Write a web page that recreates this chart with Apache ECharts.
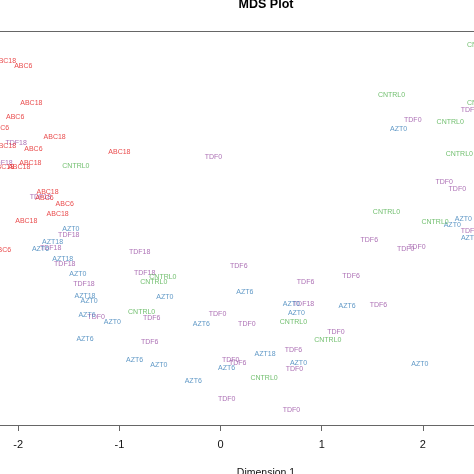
<!DOCTYPE html>
<html>
<head>
<meta charset="utf-8" />
<style type="text/css">
html, body {margin: 0; padding: 0; background: #fff}
#main {width: 474px; height: 474px}
</style>
</head>
<body>
<div id="main"></div>
<script src="https://cdn.jsdelivr.net/npm/echarts@6/dist/echarts.min.js"></script>
<script type="text/javascript">

// MDS coordinates, one array set per group
var abcNames = ['ABC18','ABC6','ABC18','ABC6','ABC6','ABC18','ABC18','ABC6','ABC18','ABC18','ABC18','ABC18','ABC18','ABC6','ABC6','ABC18','ABC18','ABC6'];
var abcDim1 = [-2.13,-1.95,-1.87,-2.03,-2.18,-1.64,-2.13,-1.85,-1.00,-1.88,-1.99,-2.15,-1.71,-1.74,-1.54,-1.61,-1.92,-2.16];
var abcDim2 = [1.65,1.60,1.23,1.10,0.99,0.90,0.81,0.78,0.75,0.64,0.60,0.60,0.35,0.30,0.24,0.14,0.07,-0.22];

var aztNames = ['AZT0','AZT18','AZT6','AZT18','AZT0','AZT18','AZT0','AZT0','AZT6','AZT0','AZT6','AZT6','AZT0','AZT6',
    'AZT6','AZT6','AZT0','AZT0','AZT6','AZT18','AZT0','AZT6','AZT0','AZT0','AZT0','AZT0','AZT0'];
var aztDim1 = [-1.48,-1.66,-1.78,-1.56,-1.41,-1.34,-1.30,-0.55,-1.32,-1.07,-1.34,-0.85,-0.61,-0.27,
    -0.19,0.24,0.70,0.75,0.06,0.44,0.77,1.25,1.97,1.76,2.29,2.40,2.46];
var aztDim2 = [-0.01,-0.14,-0.21,-0.31,-0.45,-0.67,-0.72,-0.68,-0.86,-0.93,-1.10,-1.30,-1.35,-1.51,
    -0.95,-0.63,-0.75,-0.84,-1.38,-1.24,-1.33,-0.77,-1.34,0.98,0.03,0.09,-0.10];

var cntrlNames = ['CNTRL0','CNTRL0','CNTRL0','CNTRL0','CNTRL0','CNTRL0','CNTRL0','CNTRL0','CNTRL0','CNTRL0','CNTRL0','CNTRL0','CNTRL0','CNTRL0'];
var cntrlDim1 = [-1.43,-0.57,-0.66,-0.78,0.72,1.06,0.43,1.69,2.57,2.57,2.27,2.36,1.64,2.12];
var cntrlDim2 = [0.61,-0.48,-0.53,-0.83,-0.93,-1.11,-1.48,1.31,1.81,1.23,1.05,0.73,0.16,0.06];

var tdfNames = ['TDF18','TDF18','TDF18','TDF18','TDF18','TDF18','TDF18','TDF18','TDF18','TDF0','TDF6','TDF6',
    'TDF0','TDF6','TDF6','TDF18','TDF0','TDF0','TDF0','TDF6','TDF6','TDF0','TDF0','TDF0','TDF0',
    'TDF6','TDF6','TDF6','TDF0','TDF0','TDF0','TDF0','TDF0','TDF6','TDF0'];
var tdfDim1 = [-2.02,-2.16,-1.78,-1.50,-1.68,-1.54,-0.80,-0.75,-1.35,-1.23,-0.68,-0.70,
    -0.07,0.18,0.84,0.82,-0.03,0.26,0.10,0.17,0.72,0.73,0.06,0.70,1.14,
    1.56,1.29,1.47,1.83,1.94,2.21,2.34,2.46,2.46,1.90];
var tdfDim2 = [0.84,0.64,0.31,-0.07,-0.20,-0.36,-0.24,-0.44,-0.55,-0.88,-0.89,-1.13,
    0.70,-0.38,-0.53,-0.75,-0.85,-0.95,-1.30,-1.33,-1.21,-1.39,-1.69,-1.80,-1.03,
    -0.76,-0.47,-0.12,-0.21,-0.19,0.45,0.38,-0.03,1.16,1.07];

var tickValues = [-2, -1, 0, 1, 2];

var FONT = 'Liberation Sans, Arial, sans-serif';

function makeSeries(names, d1, d2, color) {
    var data = [];
    for (var i = 0; i < names.length; i++) {
        data.push([d1[i], d2[i], names[i]]);
    }
    return {
        type: 'scatter',
        data: data,
        symbolSize: 1,
        clip: false,
        silent: true,
        itemStyle: { color: 'rgba(0,0,0,0)' },
        label: {
            show: true,
            position: 'inside',
            color: color,
            fontSize: 7,
            fontFamily: FONT,
            formatter: function (p) { return p.value[2]; }
        },
        emphasis: { disabled: true }
    };
}

var myChart = echarts.init(document.getElementById('main'));

var option = {
    animation: false,
    title: [{
        text: 'MDS Plot',
        left: 261,
        top: -7,
        textAlign: 'center',
        textStyle: { fontFamily: FONT, fontSize: 12.5, fontWeight: 'bold', color: '#000' }
    }, {
        text: 'Dimension 1',
        left: 261,
        top: 463,
        textAlign: 'center',
        textStyle: { fontFamily: FONT, fontSize: 10.5, fontWeight: 'normal', color: '#111' }
    }],
    grid: { left: 0, right: 0, top: 31, bottom: 49 },
    xAxis: [{
        type: 'value',
        position: 'bottom',
        min: -2.18,
        max: 2.505,
        splitLine: { show: false },
        axisLine: { onZero: false, lineStyle: { color: '#666', width: 1 } },
        axisTick: { customValues: tickValues, length: 6, lineStyle: { color: '#666' } },
        axisLabel: { customValues: tickValues, margin: 14, fontSize: 11, fontFamily: FONT, color: '#111' }
    }, {
        type: 'value',
        position: 'top',
        min: -2.18,
        max: 2.505,
        splitLine: { show: false },
        axisLine: { onZero: false, lineStyle: { color: '#666', width: 1 } },
        axisTick: { show: false },
        axisLabel: { show: false }
    }],
    yAxis: {
        type: 'value',
        min: -1.945,
        max: 1.945,
        show: false
    },
    series: [
        makeSeries(tdfNames, tdfDim1, tdfDim2, '#984EA3'),
        makeSeries(aztNames, aztDim1, aztDim2, '#377EB8'),
        makeSeries(cntrlNames, cntrlDim1, cntrlDim2, '#4DAF4A'),
        makeSeries(abcNames, abcDim1, abcDim2, '#E41A1C')
    ]
};

myChart.setOption(option);
</script>
</body>
</html>
